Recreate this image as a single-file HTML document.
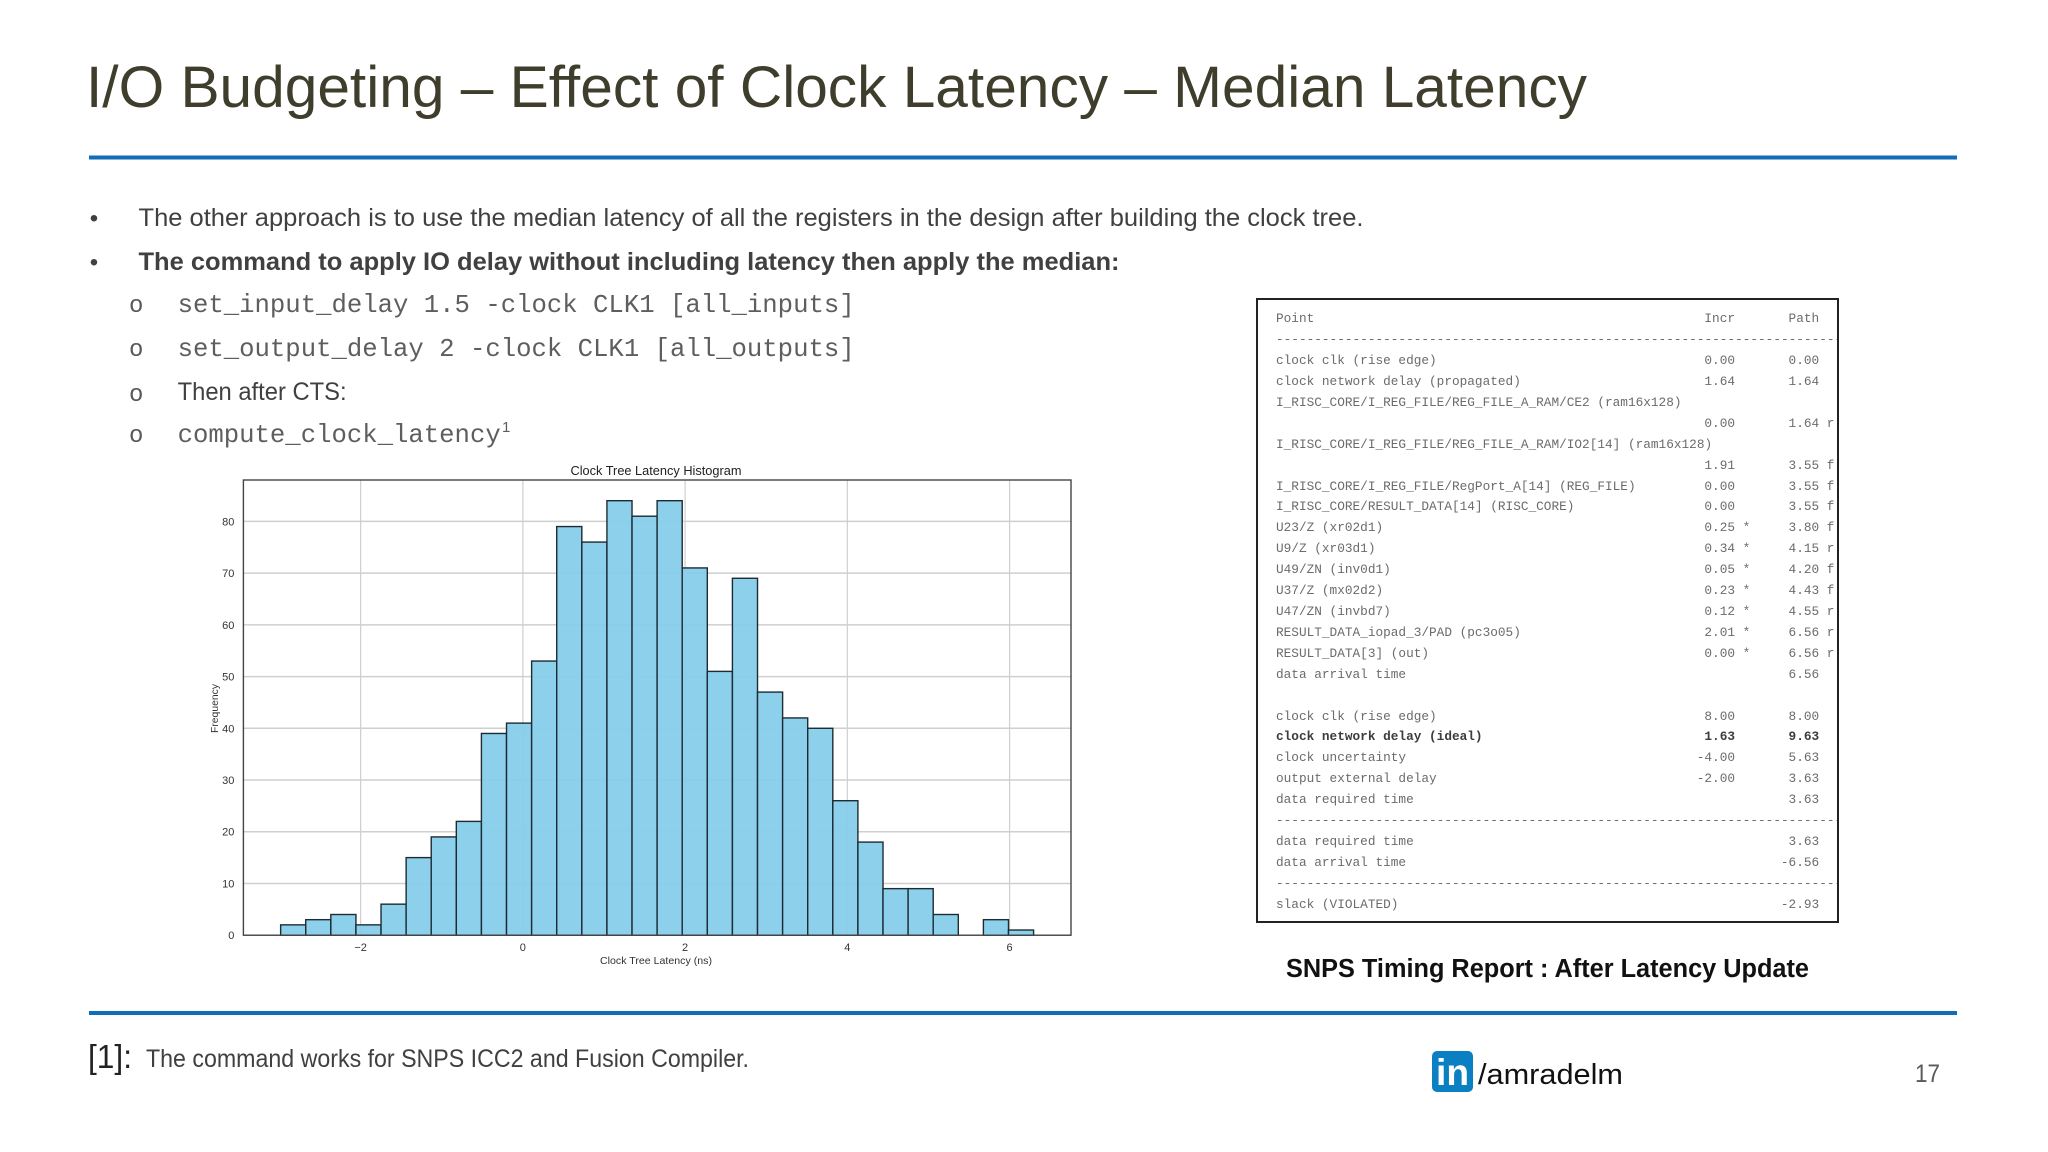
<!DOCTYPE html>
<html lang="en">
<head>
<meta charset="utf-8">
<title>I/O Budgeting – Effect of Clock Latency – Median Latency</title>
<style>
html,body{margin:0;padding:0;background:#fff;}
#slide{position:relative;width:2048px;height:1152px;overflow:hidden;background:#fff;}
#slide>svg{position:absolute;left:0;top:0;}
text{font-family:"Liberation Sans",sans-serif;}
.mono{font-family:"Liberation Mono",monospace;}
#report{position:absolute;left:1256px;top:298px;width:579px;height:621px;border:2px solid #222;background:#fff;overflow:hidden;filter:blur(.35px);}
#report pre{position:absolute;top:9.3px;margin:0;font:12.75px/20.9px "Liberation Mono",monospace;color:#6b6b6b;}
#report b{color:#3c3c3c;}
</style>
</head>
<body>
<div id="slide">
<svg width="2048" height="1152" viewBox="0 0 2048 1152">
  <text x="86" y="107" font-size="58" fill="#3f3d2b" textLength="1501" lengthAdjust="spacingAndGlyphs">I/O Budgeting – Effect of Clock Latency – Median Latency</text>
  <rect x="89" y="155.5" width="1868" height="4" fill="#0f6dba"/>

  <text x="94" y="226" font-size="24" fill="#404040" text-anchor="middle">•</text>
  <text x="138.5" y="226" font-size="25" fill="#404040" textLength="1225" lengthAdjust="spacingAndGlyphs">The other approach is to use the median latency of all the registers in the design after building the clock tree.</text>
  <text x="94" y="270" font-size="24" fill="#404040" text-anchor="middle">•</text>
  <text x="138.5" y="270" font-size="25" font-weight="700" fill="#404040" textLength="981" lengthAdjust="spacingAndGlyphs">The command to apply IO delay without including latency then apply the median:</text>

  <text class="mono" x="129" y="312" font-size="24" fill="#595959">o</text>
  <text class="mono" x="177.6" y="312" font-size="25.65" fill="#5e5e5e">set_input_delay 1.5 -clock CLK1 [all_inputs]</text>
  <text class="mono" x="129" y="356" font-size="24" fill="#595959">o</text>
  <text class="mono" x="177.6" y="356" font-size="25.65" fill="#5e5e5e">set_output_delay 2 -clock CLK1 [all_outputs]</text>
  <text class="mono" x="129" y="401" font-size="24" fill="#595959">o</text>
  <text x="177.6" y="400" font-size="25" fill="#404040" textLength="169" lengthAdjust="spacingAndGlyphs">Then after CTS:</text>
  <text class="mono" x="129" y="442" font-size="24" fill="#595959">o</text>
  <text class="mono" x="177.6" y="442" font-size="25.65" fill="#5e5e5e">compute_clock_latency</text>
  <text x="502" y="432" font-size="15" fill="#5e5e5e">1</text>

  <g id="chart" style="filter:blur(.3px)"></g>

  <text x="1286" y="977" font-size="25.5" font-weight="700" fill="#111" textLength="523" lengthAdjust="spacingAndGlyphs">SNPS Timing Report : After Latency Update</text>

  <rect x="89" y="1011" width="1868" height="4" fill="#0f6dba"/>
  <text x="88" y="1068" font-size="33" fill="#222" textLength="44" lengthAdjust="spacingAndGlyphs">[1]:</text>
  <text x="146" y="1067" font-size="25" fill="#404040" textLength="603" lengthAdjust="spacingAndGlyphs">The command works for SNPS ICC2 and Fusion Compiler.</text>

  <g>
    <rect x="1432" y="1051" width="41" height="41" rx="5" fill="#0a7fc1"/>
    <text x="1436" y="1085" font-size="37" font-weight="700" fill="#fff" textLength="33" lengthAdjust="spacingAndGlyphs">in</text>
    <text x="1478" y="1084" font-size="29" fill="#111" textLength="145" lengthAdjust="spacingAndGlyphs">/amradelm</text>
  </g>
  <text x="1915" y="1082" font-size="25" fill="#595959" textLength="25" lengthAdjust="spacingAndGlyphs">17</text>
</svg>

<div id="report">
<pre style="left:18px">Point
---------------------------------------------------------------------------
clock clk (rise edge)
clock network delay (propagated)
I_RISC_CORE/I_REG_FILE/REG_FILE_A_RAM/CE2 (ram16x128)

I_RISC_CORE/I_REG_FILE/REG_FILE_A_RAM/IO2[14] (ram16x128)

I_RISC_CORE/I_REG_FILE/RegPort_A[14] (REG_FILE)
I_RISC_CORE/RESULT_DATA[14] (RISC_CORE)
U23/Z (xr02d1)
U9/Z (xr03d1)
U49/ZN (inv0d1)
U37/Z (mx02d2)
U47/ZN (invbd7)
RESULT_DATA_iopad_3/PAD (pc3o05)
RESULT_DATA[3] (out)
data arrival time

clock clk (rise edge)
<b>clock network delay (ideal)</b>
clock uncertainty
output external delay
data required time
---------------------------------------------------------------------------
data required time
data arrival time
---------------------------------------------------------------------------
slack (VIOLATED)</pre>
<pre style="left:438.75px"> Incr

 0.00
 1.64

 0.00

 1.91
 0.00
 0.00
 0.25 *
 0.34 *
 0.05 *
 0.23 *
 0.12 *
 2.01 *
 0.00 *


 8.00
<b> 1.63</b>
-4.00
-2.00</pre>
<pre style="left:522.9px"> Path

 0.00
 1.64

 1.64 r

 3.55 f
 3.55 f
 3.55 f
 3.80 f
 4.15 r
 4.20 f
 4.43 f
 4.55 r
 6.56 r
 6.56 r
 6.56

 8.00
<b> 9.63</b>
 5.63
 3.63
 3.63

 3.63
-6.56

-2.93</pre>
</div>
</div>

<script>
const binCounts = [2,3,4,2,6,15,19,22,39,41,53,79,76,84,81,84,71,51,69,47,42,40,26,18,9,9,4,0,3,1];
const binStart = -2.986;
const binEnd = 6.296;
const xTickValues = [-2,0,2,4,6];
const xTickLabels = ["−2","0","2","4","6"];
const yTickValues = [0,10,20,30,40,50,60,70,80];
const yTickLabels = ["0","10","20","30","40","50","60","70","80"];
const xDomain = [-3.445, 6.757];
const yDomain = [0, 88];

const plot = {left:243.4, right:1071, top:480, bottom:935.2};
const NS = "http://www.w3.org/2000/svg";
const chart = document.getElementById("chart");

function xScale(v){
  return plot.left + (v - xDomain[0]) / (xDomain[1] - xDomain[0]) * (plot.right - plot.left);
}
function yScale(v){
  return plot.bottom - (v - yDomain[0]) / (yDomain[1] - yDomain[0]) * (plot.bottom - plot.top);
}
function svgEl(tag, attrs){
  const el = document.createElementNS(NS, tag);
  for (const k in attrs) el.setAttribute(k, attrs[k]);
  return el;
}
function label(str, attrs){
  const el = svgEl("text", attrs);
  el.textContent = str;
  chart.appendChild(el);
  return el;
}

yTickValues.forEach(function(v, i){
  const grid = svgEl("line", {x1:plot.left, x2:plot.right, y1:yScale(v), y2:yScale(v), stroke:"#cfcfcf", "stroke-width":1.5});
  
  
  chart.appendChild(grid);
  const tick = label(yTickLabels[i], {x:plot.left-9, y:yScale(v)+4, "font-size":11, fill:"#333", "text-anchor":"end"});
  
  
});
xTickValues.forEach(function(v, i){
  const grid = svgEl("line", {x1:xScale(v), x2:xScale(v), y1:plot.top, y2:plot.bottom, stroke:"#cfcfcf", "stroke-width":1.2});
  
  
  chart.appendChild(grid);
  const tick = label(xTickLabels[i], {x:xScale(v), y:plot.bottom+16, "font-size":11, fill:"#333", "text-anchor":"middle"});
  
  
});

const binWidth = (binEnd - binStart) / binCounts.length;
binCounts.forEach(function(c, i){
  if (c <= 0) return;
  const x0 = xScale(binStart + i * binWidth);
  const x1 = xScale(binStart + (i + 1) * binWidth);
  const bar = svgEl("rect", {x:x0, y:yScale(c), width:x1-x0, height:yScale(0)-yScale(c), fill:"#87ceeb", "fill-opacity":0.95, stroke:"#1d2b33", "stroke-width":1.4});
  
  
  chart.appendChild(bar);
});

const frame = svgEl("rect", {x:plot.left, y:plot.top, width:plot.right-plot.left, height:plot.bottom-plot.top, fill:"none", stroke:"#444", "stroke-width":1.4});


chart.appendChild(frame);

const chartTitle = label("Clock Tree Latency Histogram", {x:656, y:475, "font-size":12.5, fill:"#222", "text-anchor":"middle", textLength:171, lengthAdjust:"spacingAndGlyphs"});



const xAxisTitle = label("Clock Tree Latency (ns)", {x:656, y:964, "font-size":10.5, fill:"#333", "text-anchor":"middle", textLength:112, lengthAdjust:"spacingAndGlyphs"});



const yAxisTitle = label("Frequency", {x:0, y:0, "font-size":10.5, fill:"#333", "text-anchor":"middle", textLength:49, lengthAdjust:"spacingAndGlyphs", transform:"translate(218,708.5) rotate(-90)"});


</script>
</body>
</html>
